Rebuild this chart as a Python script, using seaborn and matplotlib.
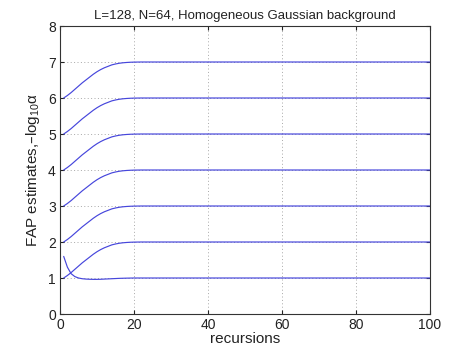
import matplotlib
matplotlib.use("Agg")
import matplotlib.pyplot as plt
import seaborn as sns
import pandas as pd

x = [1, 2, 3, 4, 5, 6, 7, 8, 9, 10, 11, 12, 13, 14, 15, 16, 17, 18, 19, 20, 22, 25, 30, 40, 50, 60, 70, 80, 90, 100]

curve_1 = [1.60, 1.30, 1.12, 1.04, 1.00, 0.98, 0.97, 0.965, 0.962, 0.962, 0.965, 0.97, 0.975, 0.98, 0.985, 0.99, 0.993, 0.996, 0.998, 1.00, 1.00, 1.00, 1.00, 1.00, 1.00, 1.00, 1.00, 1.00, 1.00, 1.00]
curve_2 = [1.00, 1.07, 1.15, 1.24, 1.33, 1.42, 1.50, 1.58, 1.66, 1.73, 1.79, 1.84, 1.88, 1.92, 1.945, 1.965, 1.978, 1.987, 1.993, 1.997, 2.00, 2.00, 2.00, 2.00, 2.00, 2.00, 2.00, 2.00, 2.00, 2.00]
curve_3 = [2.00, 2.07, 2.15, 2.24, 2.33, 2.42, 2.50, 2.58, 2.66, 2.73, 2.79, 2.84, 2.88, 2.92, 2.945, 2.965, 2.978, 2.987, 2.993, 2.997, 3.00, 3.00, 3.00, 3.00, 3.00, 3.00, 3.00, 3.00, 3.00, 3.00]
curve_4 = [3.00, 3.07, 3.15, 3.24, 3.33, 3.42, 3.50, 3.58, 3.66, 3.73, 3.79, 3.84, 3.88, 3.92, 3.945, 3.965, 3.978, 3.987, 3.993, 3.997, 4.00, 4.00, 4.00, 4.00, 4.00, 4.00, 4.00, 4.00, 4.00, 4.00]
curve_5 = [4.00, 4.07, 4.15, 4.24, 4.33, 4.42, 4.50, 4.58, 4.66, 4.73, 4.79, 4.84, 4.88, 4.92, 4.945, 4.965, 4.978, 4.987, 4.993, 4.997, 5.00, 5.00, 5.00, 5.00, 5.00, 5.00, 5.00, 5.00, 5.00, 5.00]
curve_6 = [5.00, 5.07, 5.15, 5.24, 5.33, 5.42, 5.50, 5.58, 5.66, 5.73, 5.79, 5.84, 5.88, 5.92, 5.945, 5.965, 5.978, 5.987, 5.993, 5.997, 6.00, 6.00, 6.00, 6.00, 6.00, 6.00, 6.00, 6.00, 6.00, 6.00]
curve_7 = [6.00, 6.07, 6.15, 6.24, 6.33, 6.42, 6.50, 6.58, 6.66, 6.73, 6.79, 6.84, 6.88, 6.92, 6.945, 6.965, 6.978, 6.987, 6.993, 6.997, 7.00, 7.00, 7.00, 7.00, 7.00, 7.00, 7.00, 7.00, 7.00, 7.00]

curves = {"c1": curve_1, "c2": curve_2, "c3": curve_3, "c4": curve_4,
          "c5": curve_5, "c6": curve_6, "c7": curve_7}

x_ticks = [0, 20, 40, 60, 80, 100]
y_ticks = [0, 1, 2, 3, 4, 5, 6, 7, 8]
title = "L=128, N=64, Homogeneous Gaussian background"
xlabel = "recursions"
ylabel = "FAP estimates,\u2013log$_{\\mathregular{10}}$\u03b1"

rows = []
for name, vals in curves.items():
    for xi, yi in zip(x, vals):
        rows.append({"x": xi, "y": yi, "curve": name})
df = pd.DataFrame(rows)

sns.set_style("white")
plt.rcParams["font.family"] = ["Liberation Sans", "DejaVu Sans"]
plt.rcParams["mathtext.default"] = "regular"

fig = plt.figure(figsize=(4.74, 3.55), dpi=100)
ax = fig.add_axes([60 / 474, 1 - 314 / 355, 370 / 474, 288 / 355])

sns.lineplot(data=df, x="x", y="y", units="curve", estimator=None,
             color="#4646dc", linewidth=0.85, ax=ax, legend=False)

ax.set_xlim(0, 100)
ax.set_ylim(0, 8)
ax.set_xticks(x_ticks)
ax.set_yticks(y_ticks)
ax.grid(True, linestyle=(0, (1, 2.5)), color="#a8a8a8", linewidth=0.7)
for s in ax.spines.values():
    s.set_color("#333333")
    s.set_linewidth(0.8)
ax.tick_params(direction="in", length=3, labelsize=10, colors="#222222", pad=3,
               top=True, right=True, bottom=True, left=True,
               labeltop=False, labelright=False)
ax.set_title(title, fontsize=9.5, color="#222222", pad=5)
ax.set_xlabel(xlabel, fontsize=11, color="#222222", labelpad=0)
ax.set_ylabel(ylabel, fontsize=11, color="#222222", labelpad=4)

fig.savefig("out.png", dpi=100)
